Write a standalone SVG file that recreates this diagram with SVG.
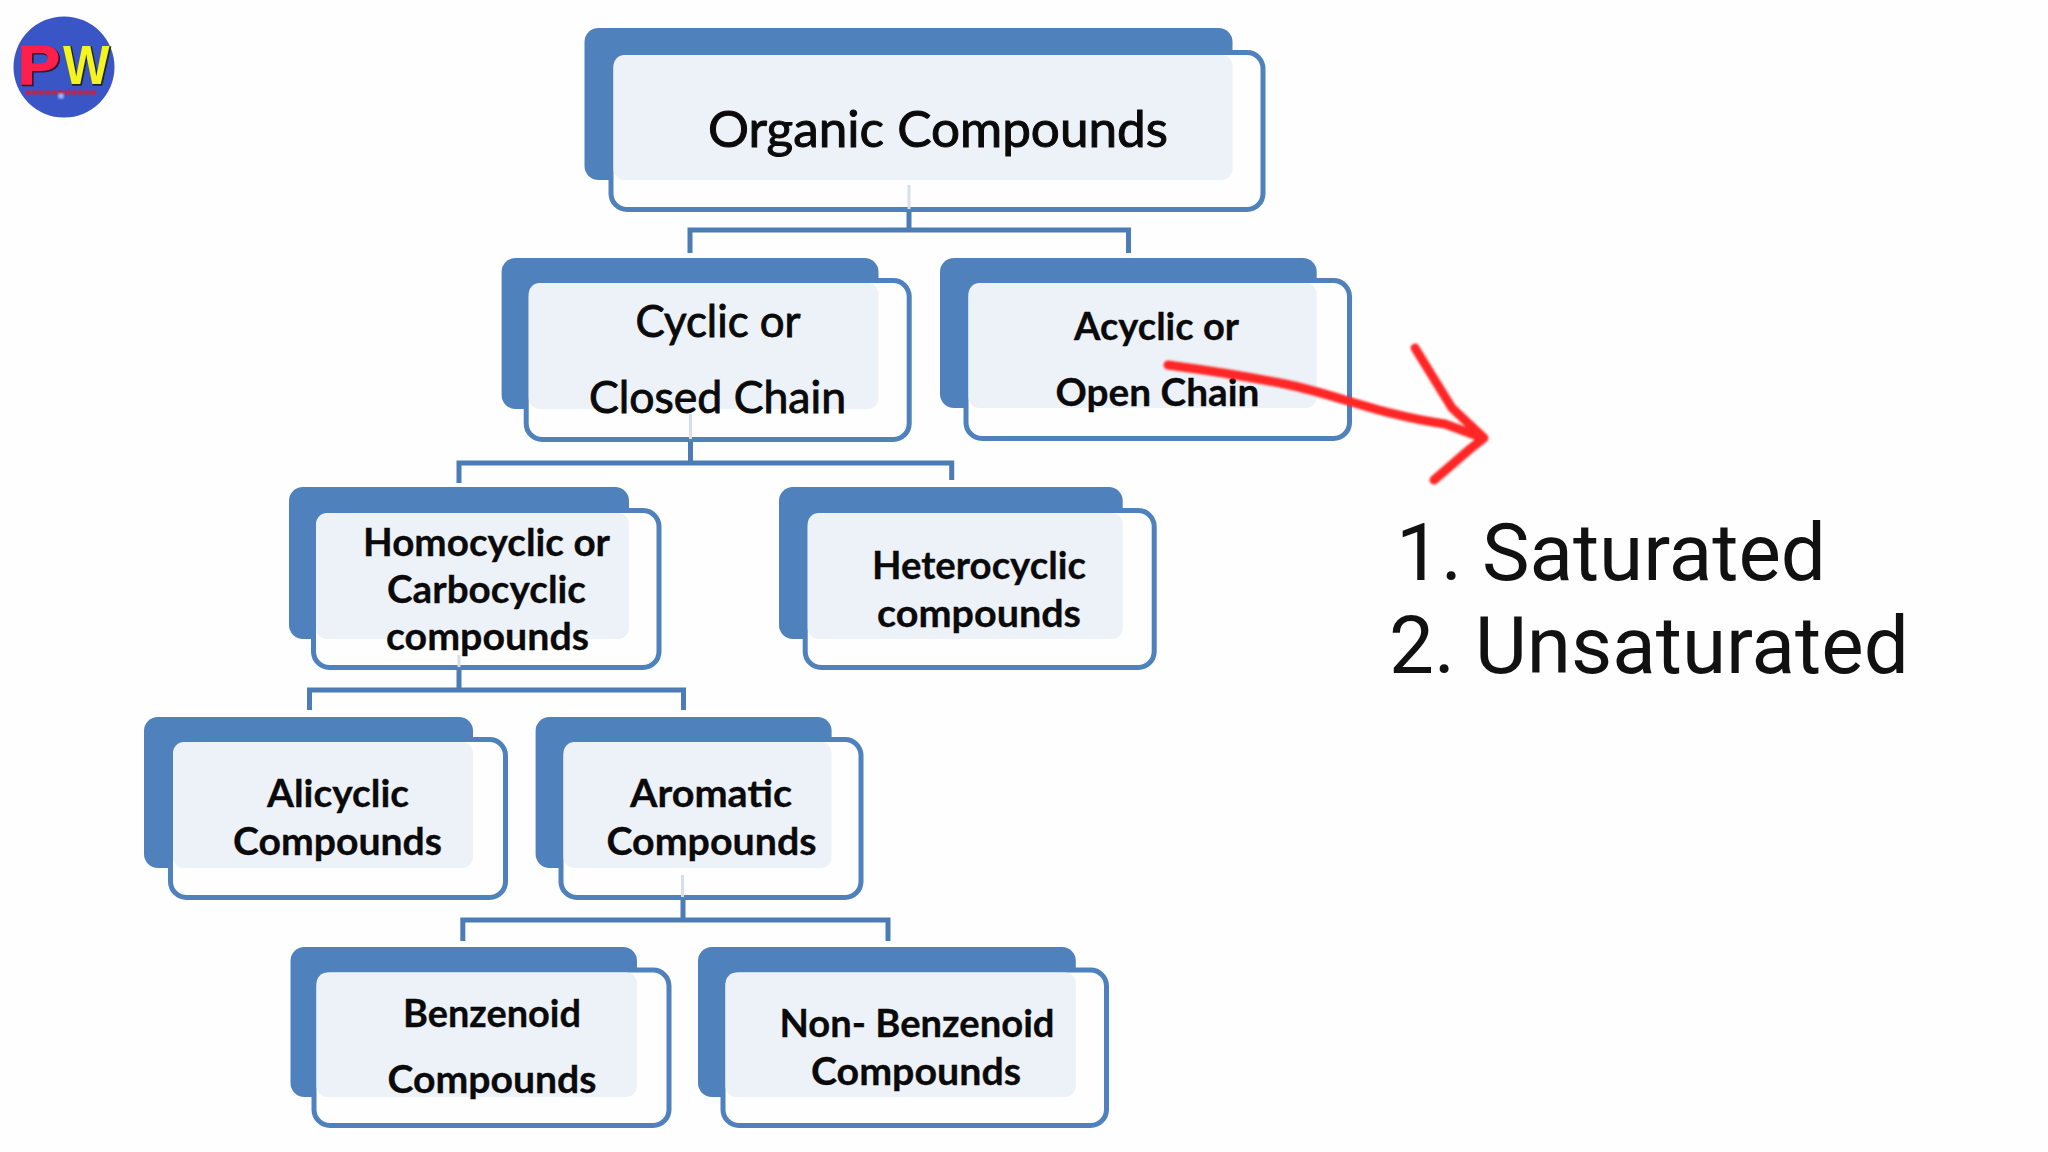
<svg xmlns="http://www.w3.org/2000/svg" width="2048" height="1152" viewBox="0 0 2048 1152">
<style>
.back{fill:#4F81BD}
.front{fill:#FEFEFE;stroke:#4F81BD;stroke-width:5}
.over{fill:#EDF1F8}
.lbl{font-family:"Lato","Liberation Sans",sans-serif;fill:#0a0a0a;stroke:#0a0a0a}
.l1{font-size:51px;font-weight:400;stroke-width:1}
.l2{font-size:45px;font-weight:400;stroke-width:.9}
.l3{font-size:38px;font-weight:700;stroke-width:.3}
.conn{fill:none;stroke:#4B7CB6;stroke-width:5}
.faint{fill:none;stroke:#D6DFEB;stroke-width:3}
.big{font-family:"Roboto","Liberation Sans",sans-serif;font-size:80px;fill:#111}
.ink{fill:none;stroke:#FF2626;stroke-width:9;stroke-linecap:round;stroke-linejoin:round}
.logo-l{font-family:"Liberation Sans",sans-serif;font-weight:700;font-size:56px}
</style>
<defs><filter id="soft" x="-10%" y="-10%" width="120%" height="120%"><feGaussianBlur stdDeviation="0.8"/></filter></defs>
<rect width="2048" height="1152" fill="#FEFEFE"/>
<g id="logo">
<circle cx="64" cy="67" r="50.5" fill="#3A55C6"/>
<text class="logo-l" transform="translate(19 85) scale(1.12 1)" fill="#301030" stroke="#301030" stroke-width="2.500">P</text>
<text class="logo-l" transform="translate(18 84) scale(1.12 1)" fill="#FF1F4B" stroke="#FF1F4B" stroke-width="1.500">P</text>
<text class="logo-l" transform="translate(64 85) scale(.88 1)" fill="#1a2a20" stroke="#1a2a20" stroke-width="1.500">W</text>
<text class="logo-l" transform="translate(63 84) scale(.88 1)" fill="#F6F41E">W</text>
<path d="M26 92.500H96" stroke="#D81B3A" stroke-width="4" stroke-dasharray="5 1.500" fill="none"/>
<circle cx="61" cy="96" r="3" fill="#9FB4F5" filter="url(#soft)"/>
</g>
<g id="organic-compounds">
<rect class="back" x="584.500" y="28" width="648" height="152" rx="14"/>
<rect class="front" x="611" y="52.500" width="652" height="157" rx="16"/>
<rect class="over" x="613.500" y="55" width="619" height="125" rx="11"/>
<text class="lbl l1" x="708" y="147" textLength="460" lengthAdjust="spacingAndGlyphs">Organic Compounds</text>
</g>
<g id="cyclic">
<rect class="back" x="501.600" y="258" width="376.900" height="151" rx="14"/>
<rect class="front" x="526.200" y="280.500" width="383" height="159" rx="16"/>
<rect class="over" x="528.700" y="283" width="349.800" height="126" rx="11"/>
<text class="lbl l2" x="635.500" y="337" textLength="165" lengthAdjust="spacingAndGlyphs">Cyclic or</text>
<text class="lbl l2" x="589" y="413" textLength="257" lengthAdjust="spacingAndGlyphs">Closed Chain</text>
</g>
<g id="acyclic">
<rect class="back" x="940" y="258" width="376.700" height="150" rx="14"/>
<rect class="front" x="966" y="280.500" width="383.500" height="158" rx="16"/>
<rect class="over" x="968.500" y="283" width="348.200" height="125" rx="11"/>
<text class="lbl l3" x="1074" y="340" textLength="165" lengthAdjust="spacingAndGlyphs">Acyclic or</text>
<text class="lbl l3" x="1055.500" y="406" textLength="204" lengthAdjust="spacingAndGlyphs">Open Chain</text>
</g>
<g id="homocyclic">
<rect class="back" x="289" y="487" width="340" height="152" rx="14"/>
<rect class="front" x="313.500" y="510.500" width="345.500" height="157" rx="16"/>
<rect class="over" x="316" y="513" width="313" height="126" rx="11"/>
<text class="lbl l3" x="363" y="556" textLength="247" lengthAdjust="spacingAndGlyphs">Homocyclic or</text>
<text class="lbl l3" x="387" y="603" textLength="199" lengthAdjust="spacingAndGlyphs">Carbocyclic</text>
<text class="lbl l3" x="386" y="650" textLength="203" lengthAdjust="spacingAndGlyphs">compounds</text>
</g>
<g id="heterocyclic">
<rect class="back" x="779" y="487" width="343.700" height="152" rx="14"/>
<rect class="front" x="805.200" y="510.500" width="349" height="157" rx="16"/>
<rect class="over" x="807.700" y="513" width="315" height="126" rx="11"/>
<text class="lbl l3" x="872" y="578.500" textLength="214" lengthAdjust="spacingAndGlyphs">Heterocyclic</text>
<text class="lbl l3" x="877" y="626.700" textLength="204" lengthAdjust="spacingAndGlyphs">compounds</text>
</g>
<g id="alicyclic">
<rect class="back" x="144" y="717" width="329" height="151" rx="14"/>
<rect class="front" x="170.500" y="739.500" width="335" height="158" rx="16"/>
<rect class="over" x="173" y="742" width="300" height="126" rx="11"/>
<text class="lbl l3" x="267" y="807" textLength="142" lengthAdjust="spacingAndGlyphs">Alicyclic</text>
<text class="lbl l3" x="233" y="855" textLength="209" lengthAdjust="spacingAndGlyphs">Compounds</text>
</g>
<g id="aromatic">
<rect class="back" x="535.600" y="717" width="296" height="151" rx="14"/>
<rect class="front" x="561" y="739.500" width="300" height="158" rx="16"/>
<rect class="over" x="563.500" y="742" width="268" height="126" rx="11"/>
<text class="lbl l3" x="630" y="807" textLength="162" lengthAdjust="spacingAndGlyphs">Aromatic</text>
<text class="lbl l3" x="606.500" y="855" textLength="210" lengthAdjust="spacingAndGlyphs">Compounds</text>
</g>
<g id="benzenoid">
<rect class="back" x="290.500" y="947" width="346.500" height="150" rx="14"/>
<rect class="front" x="314" y="970" width="355" height="155.500" rx="16"/>
<rect class="over" x="316.500" y="972.500" width="320.500" height="124.500" rx="11"/>
<text class="lbl l3" x="403" y="1026.700" textLength="178" lengthAdjust="spacingAndGlyphs">Benzenoid</text>
<text class="lbl l3" x="387.500" y="1093" textLength="209" lengthAdjust="spacingAndGlyphs">Compounds</text>
</g>
<g id="non-benzenoid">
<rect class="back" x="698" y="947" width="377.800" height="150" rx="14"/>
<rect class="front" x="723" y="970" width="383.500" height="155.500" rx="16"/>
<rect class="over" x="725.500" y="972.500" width="350.300" height="124.500" rx="11"/>
<text class="lbl l3" x="779.500" y="1036.700" textLength="275" lengthAdjust="spacingAndGlyphs">Non- Benzenoid</text>
<text class="lbl l3" x="811" y="1085" textLength="210" lengthAdjust="spacingAndGlyphs">Compounds</text>
</g>
<g id="connectors">
<path class="faint" d="M909 185V209M690.500 414V439M459 655V667M682.500 875V897"/>
<path class="conn" d="M909 212V230M690 253V230H1128.500V253"/>
<path class="conn" d="M690.500 442V463M459 483V463H951.700V480"/>
<path class="conn" d="M459 670V690M309.500 710V690H683.500V710"/>
<path class="conn" d="M683 900V920M462.800 941V920H888V941"/>
</g>
<g id="note">
<text class="big" x="1396" y="580">1. Saturated</text>
<text class="big" x="1389" y="673">2. Unsaturated</text>
</g>
<g id="red-arrow" filter="url(#soft)">
<path class="ink" d="M1168 365C1205 370 1245 376 1285 384C1335 394 1380 415 1445 424L1483 438"/>
<path class="ink" d="M1415 348L1452 408L1484 438L1470 449L1434 480"/>
</g>
</svg>
